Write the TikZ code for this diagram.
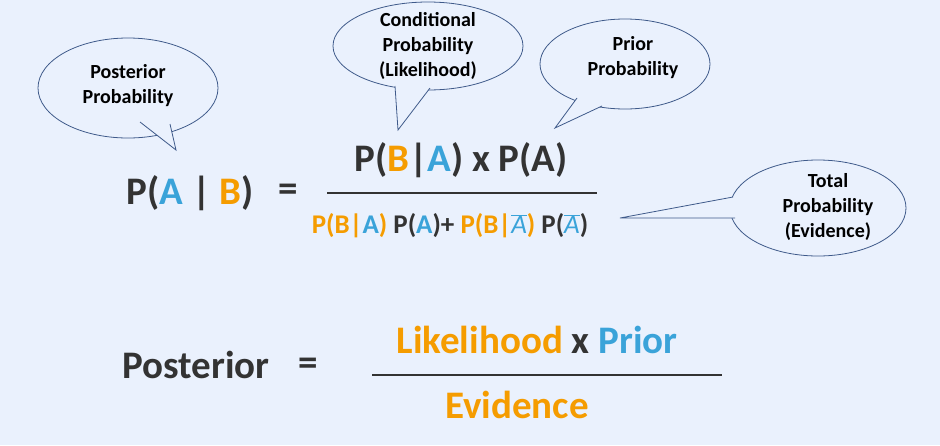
\documentclass[tikz,border=0pt]{standalone}
\usepackage{fontspec}
\setmainfont{Carlito}
\definecolor{bg}{HTML}{EAF1FD}
\definecolor{org}{HTML}{F59C00}
\definecolor{blu}{HTML}{3AA3D9}
\definecolor{ink}{HTML}{333333}
\definecolor{edge}{HTML}{3F5A8A}
\newcommand{\oB}{\textcolor{org}{B}}
\newcommand{\bA}{\textcolor{blu}{A}}
\newcommand{\Abar}{\textcolor{blu}{$\overline{\mathit{A}}$}}
\newcommand{\mycallout}[7]{%
  \draw[draw=edge, line width=0.8pt, fill=bg] (#1,#2) ellipse [x radius=#3, y radius=#4];
  \fill[bg] (#5) -- (#6) -- (#7) -- cycle;
  \draw[edge, line width=0.8pt] (#5) -- (#6) -- (#7);}
\begin{document}
\begin{tikzpicture}[x=1pt,y=-1pt,
  ctext/.style={font=\bfseries\fontsize{20}{25}\selectfont, text=black, align=center},
  big/.style={font=\bfseries\fontsize{39}{44}\selectfont, text=ink},
  mid/.style={font=\bfseries\fontsize{27}{30}\selectfont, text=ink}]
\fill[bg] (0,0) rectangle (940,445);
\useasboundingbox (0,0) rectangle (940,445);
\mycallout{128}{88}{90}{50}{140,122}{176,150}{170,124}
\mycallout{428}{46}{95}{44}{395,86}{398,130}{430,88}
\mycallout{625}{64}{85}{45}{577,98}{555,128}{602,106}
\mycallout{818}{208}{88}{48}{733,197}{620,218}{735,218}
\node[ctext] (post) at (128,86) {Posterior\\Probability};
\node[ctext] (cond) at (428,46) {Conditional\\Probability\\(Likelihood)};
\node[ctext] (prior) at (633,58) {Prior\\Probability};
\node[ctext] (tot) at (828,207) {Total\\Probability\\(Evidence)};
\node[big] (lhs) at (190,193) {P(\bA{} | \oB)};
\node[big] (eq1) at (288,193) {=};
\node[big] (num) at (461,160) {P(\oB|\bA) x P(A)};
\draw[ink, line width=2pt] (327,193) -- (597,193);
\node[mid] (den) at (450,226) {\textcolor{org}{P(B|}\bA\textcolor{org}{)} P(\bA)+ \textcolor{org}{P(B|}\Abar\textcolor{org}{)} P(\Abar)};
\node[big] (postw) at (196,365) {Posterior};
\node[big] (eq2) at (308,367) {=};
\node[big] (lp) at (537,340) {\textcolor{org}{Likelihood} x \textcolor{blu}{Prior}};
\draw[ink, line width=2pt] (372,375) -- (722,375);
\node[big,text=org] (ev) at (517,405) {Evidence};
\end{tikzpicture}
\end{document}
